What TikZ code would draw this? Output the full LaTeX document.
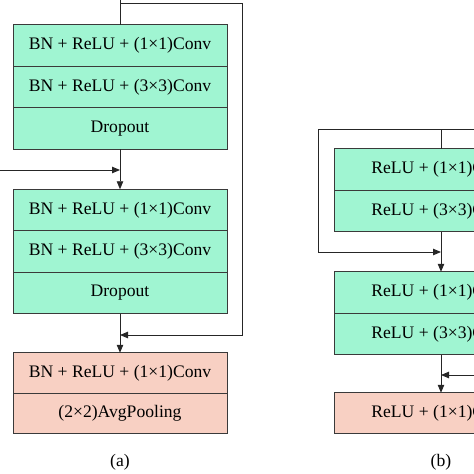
\documentclass[tikz,border=0pt]{standalone}
\usepackage{fontspec}
\setmainfont{Liberation Serif}
\usepackage{tikz}
\usetikzlibrary{positioning, arrows.meta}
\definecolor{convgreen}{HTML}{A0F5D2}
\definecolor{poolpink}{HTML}{F8D0C3}
\definecolor{edgegray}{HTML}{3A3A3A}
\tikzset{
  layer/.style ={draw=edgegray, line width=0.9pt, fill=convgreen, outer sep=0pt,
                 minimum width=214pt, minimum height=41.5pt, inner sep=0pt,
                 font=\fontsize{17.6}{21}\selectfont},
  trans/.style ={layer, fill=poolpink, minimum height=40.5pt},
  flow/.style  ={-{Triangle[length=8pt, width=6.5pt]}, line width=0.9pt, draw=black!85},
  link/.style  ={line width=0.9pt, draw=black!85},
  sublbl/.style={font=\fontsize{17.6}{21}\selectfont},
}

\begin{document}
\begin{tikzpicture}[x=1pt, y=-1pt]
  \clip (0,0) rectangle (474,474);
  \useasboundingbox (0,0) rectangle (474,474);
  % (a) dense block
  \node[layer] (a11) at (120,45.5) {BN + ReLU + (1×1)Conv};
  \node[layer, below=0pt of a11] (a12) {BN + ReLU + (3×3)Conv};
  \node[layer, below=0pt of a12] (a13) {Dropout};
  \node[layer, below=40pt of a13] (a21) {BN + ReLU + (1×1)Conv};
  \node[layer, below=0pt of a21] (a22) {BN + ReLU + (3×3)Conv};
  \node[layer, below=0pt of a22] (a23) {Dropout};
  \node[trans, below=39pt of a23] (a31) {BN + ReLU + (1×1)Conv};
  \node[trans, below=0pt of a31] (a32) {(2×2)AvgPooling};
  \node[sublbl] (capa) at (120,462) {(a)};
  % (b) residual block
  \node[layer] (b11) at (441,169.5) {ReLU + (1×1)Conv};
  \node[layer, below=0pt of b11] (b12) {ReLU + (3×3)Conv};
  \node[layer, below=40pt of b12] (b21) {ReLU + (1×1)Conv};
  \node[layer, below=0pt of b21] (b22) {ReLU + (3×3)Conv};
  \node[trans, below=38pt of b22] (b31) {ReLU + (1×1)Conv};
  \node[sublbl] (capb) at (441,462) {(b)};
  % connections of (a)
  \coordinate (ain)  at (120,-2);
  \coordinate (atop) at (120,3);
  \coordinate (atr)  at (242,3);
  \coordinate (abr)  at (242,335);
  \coordinate (aj2)  at (120,335);
  \coordinate (aleft) at (-2,170);
  \coordinate (aj1)  at (120,170);
  \draw[link] (ain) -- (a11.north);
  \draw[flow] (atop) -- (atr) -- (abr) -- (aj2);
  \draw[flow] (aleft) -- (aj1);
  \draw[flow] (a13.south) -- (a21.north);
  \draw[flow] (a23.south) -- (a31.north);
  % connections of (b)
  \coordinate (bin)  at (476,129);
  \coordinate (btop) at (441,129);
  \coordinate (btl)  at (318,129);
  \coordinate (bbl)  at (318,252);
  \coordinate (bj1)  at (441,252);
  \coordinate (bright) at (476,375);
  \coordinate (bj2)  at (441,375);
  \draw[link] (btop) -- (b11.north);
  \draw[flow] (bin) -- (btl) -- (bbl) -- (bj1);
  \draw[flow] (bright) -- (bj2);
  \draw[flow] (b12.south) -- (b21.north);
  \draw[flow] (b22.south) -- (b31.north);
\end{tikzpicture}
\end{document}
